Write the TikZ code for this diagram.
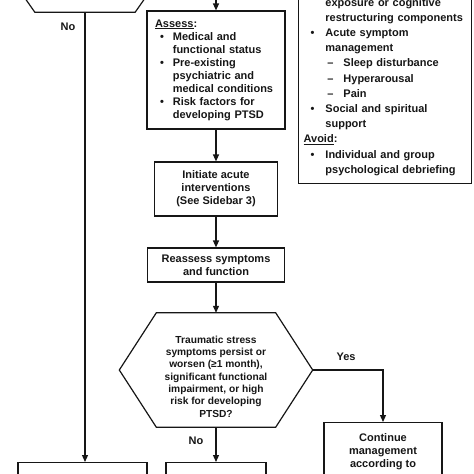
\documentclass[tikz,border=0pt]{standalone}
\usepackage{fontspec}
\setmainfont{Liberation Sans}
\usetikzlibrary{positioning,calc,arrows.meta}
\usepackage{xcolor}
\definecolor{ink}{RGB}{22,22,22}
\newcommand{\subdash}{\hspace*{2pt}\makebox[16pt][l]{--}}

\tikzset{
  line/.style={draw=ink, line width=1.2pt},
  arr/.style={line, -{Triangle[length=7pt,width=6pt]}},
  box/.style={line, rectangle, inner sep=0pt, align=center, text=ink,
              font=\fontsize{11}{13}\selectfont\bfseries},
  listbox/.style={line, rectangle, inner xsep=8pt, inner ysep=6pt, align=left, text=ink,
                  font=\fontsize{11}{13}\selectfont\bfseries},
  hexcore/.style={rectangle, inner sep=0pt},
  qtext/.style={align=center, inner sep=0pt, text=ink,
                font=\fontsize{10.2}{12.3}\selectfont\bfseries},
  tag/.style={inner sep=0pt, text=ink, font=\fontsize{11}{13}\selectfont\bfseries}
}

\begin{document}
\begin{tikzpicture}[x=1pt,y=-1pt]
\useasboundingbox (0,0) rectangle (474,474);
\clip (0,0) rectangle (474,474);

\node[hexcore, minimum width=100pt, minimum height=114pt] (scr) at (85,-45) {};
\draw[line] (scr.north west) -- (scr.north east) -- ([xshift=40pt]scr.east)
  -- (scr.south east) -- (scr.south west) -- ([xshift=-40pt]scr.west) -- cycle;

\node[listbox, text width=122pt, minimum height=118pt] (assess) at (216,70) {%
\begin{tabular}{@{\hspace{5pt}}l@{\hspace{9pt}}l@{}}
\multicolumn{2}{@{}l}{\underline{Assess}:}\\
\textbullet & Medical and\\
            & functional status\\
\textbullet & Pre-existing\\
            & psychiatric and\\
            & medical conditions\\
\textbullet & Risk factors for\\
            & developing PTSD
\end{tabular}};

\node[listbox, anchor=south west, text width=163pt, inner xsep=5pt, inner ysep=5.5pt,
      font=\fontsize{11}{15.2}\selectfont\bfseries] (care) at (298,184) {%
\begin{tabular}{@{\hspace{7pt}}l@{\hspace{11pt}}l@{}}
            & \\
            & exposure or cognitive\\
            & restructuring components\\
\textbullet & Acute symptom\\
            & management\\
            & \subdash Sleep disturbance\\
            & \subdash Hyperarousal\\
            & \subdash Pain\\
\textbullet & Social and spiritual\\
            & support\\
\multicolumn{2}{@{}l}{\underline{Avoid}:}\\
\textbullet & Individual and group\\
            & psychological debriefing
\end{tabular}};

\node[box, minimum width=123pt, minimum height=54pt] (acute) at (216,189)
  {Initiate acute\\interventions\\(See Sidebar 3)};
\node[box, minimum width=137pt, minimum height=34pt] (reassess) at (216,265)
  {Reassess symptoms\\and function};

\node[hexcore, minimum width=119pt, minimum height=114pt] (dec) at (216,370) {};
\draw[line] (dec.north west) -- (dec.north east) -- ([xshift=37pt]dec.east) coordinate (decE)
  -- (dec.south east) -- (dec.south west) -- ([xshift=-37pt]dec.west) -- cycle;
\node[qtext] (q) at ($(dec.center)+(0,6.5)$)
  {Traumatic stress\\symptoms persist or\\worsen (≥1 month),\\significant functional\\impairment, or high\\risk for developing\\PTSD?};

\node[box, anchor=north, minimum width=118pt, inner ysep=11pt] (cont) at (383,422)
  {Continue\\management\\according to\rule[-26pt]{0pt}{1pt}};
\node[box, anchor=north, minimum width=129pt, minimum height=40pt] (offer) at (82.5,462) {};
\node[box, anchor=north, minimum width=100pt, minimum height=40pt] (watch) at (216,462) {};

\coordinate (entry) at (216,-5);
\draw[arr] (entry) -- (assess);
\draw[arr] (assess) -- (acute);
\draw[arr] (acute) -- (reassess);
\draw[arr] (reassess) -- (dec);
\draw[arr] (dec.south) -- (watch);
\draw[arr] (decE) -| (cont);
\draw[arr] (scr.south) -- (scr.south |- offer.north);

\node[tag] (no1) at (68,27) {No};
\node[tag] (no2) at (196,441) {No};
\node[tag] (yes) at (346,357) {Yes};
\end{tikzpicture}
\end{document}
